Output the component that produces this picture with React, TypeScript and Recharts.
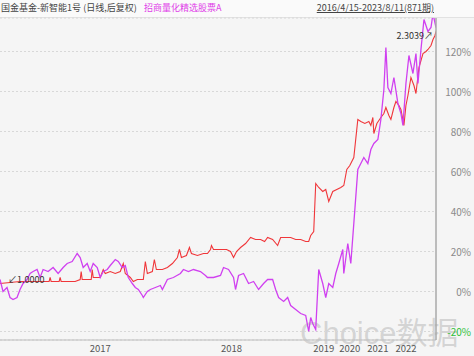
import React from "react";
import {
  LineChart,
  Line,
  XAxis,
  YAxis,
  CartesianGrid,
  ReferenceDot,
} from "recharts";

// period index (0..870, 871期) and cumulative return in %
const redPeriods = [
  0, 40, 80, 98, 100, 102, 118, 120, 122, 150, 160, 162, 164, 182, 184, 186, 200, 206, 210, 220,
  230, 240, 246, 250, 260, 266, 274, 286, 290, 294, 304, 308, 312, 324, 334, 344, 354, 358, 362, 372,
  378, 382, 394, 406, 414, 420, 422, 426, 440, 452, 460, 466, 472, 480, 490, 500, 510, 520, 528, 534,
  544, 554, 560, 570, 580, 590, 600, 610, 616, 620, 626, 630, 636, 644, 650, 656, 664, 672, 680, 686,
  692, 698, 706, 714, 720, 728, 736, 740, 744, 746, 752, 760, 766, 770, 776, 780, 786, 790, 796, 800,
  806, 810, 814, 820, 826, 830, 836, 844, 850, 854, 860, 864, 868, 870,
];
const redValues = [
  4, 5, 5, 5, 7, 5, 5, 7, 5, 5, 6, 10, 6, 6, 11, 7, 7, 11, 9, 10,
  9, 10, 14, 9, 7, 5, 6, 6, 15, 9, 10, 16, 11, 11, 12, 14, 17, 21, 17, 18,
  22, 19, 18, 19, 19, 21, 23, 21, 21, 21, 20, 17, 20, 22, 24, 27, 26, 26, 25, 27,
  26, 23, 27, 27, 27, 26, 26, 25, 25, 28, 30, 54, 52, 50, 51, 45, 50, 51, 52, 53,
  61, 63, 67, 86, 85, 84, 85, 83, 87, 79, 84, 87, 89, 92, 88, 86, 92, 95, 93, 91,
  83, 93, 98, 107, 103, 99, 112, 119, 120, 121, 123, 126, 128, 130,
];

const purplePeriods = [
  0, 6, 14, 20, 26, 34, 40, 46, 54, 60, 66, 74, 80, 86, 96, 106, 116, 126, 134, 144,
  154, 160, 166, 174, 180, 186, 194, 200, 206, 214, 220, 230, 236, 244, 250, 256, 264, 270, 276, 284,
  286, 294, 300, 310, 320, 324, 334, 346, 360, 366, 376, 386, 400, 410, 414, 426, 440, 446, 456, 466,
  470, 476, 486, 496, 506, 516, 526, 534, 544, 550, 556, 566, 574, 580, 590, 600, 610, 616, 620, 624,
  630, 636, 644, 650, 656, 664, 670, 676, 684, 686, 694, 700, 706, 714, 720, 726, 734, 740, 746, 754,
  760, 766, 770, 774, 780, 786, 794, 800, 804, 810, 816, 824, 830, 834, 840, 846, 854, 860, 864, 870,
];
const purpleValues = [
  6, 0, 2, -3, -4, -3, 1, 4, 6, 9, 10, 11, 7, 11, 10, 12, 9, 12, 14, 15,
  19, 17, 12, 14, 10, 14, 12, 7, 10, 11, 13, 16, 15, 12, 13, 7, 4, 2, 1, -2,
  -3, 0, 1, 2, 3, 1, 6, 7, 9, 11, 10, 11, 10, 8, 7, 7, 8, 12, 11, 7,
  1, 8, 9, 4, 5, 1, 4, 6, 6, 1, -3, -5, -3, -7, -9, -11, -12, -20, -13, -16,
  -19, 11, 4, -3, 4, 2, 9, 14, 21, 9, 24, 14, 34, 61, 64, 67, 64, 71, 74, 76,
  86, 101, 122, 102, 99, 107, 94, 89, 83, 104, 118, 109, 119, 104, 121, 136, 130, 132, 139, 132,
];

const yearTicks = [200, 462, 646, 698, 754, 810];
const yearLabels = ["2017", "2018", "2019", "2020", "2021", "2022"];
const pctTicks = [-20, 0, 20, 40, 60, 80, 100, 120];

const redData = redPeriods.map((p, i) => ({ p, v: redValues[i] }));
const purpleData = purplePeriods.map((p, i) => ({ p, v: purpleValues[i] }));

const RED = "#f0363a";
const PURPLE = "#d040f0";

const PctTick = ({ y, payload }: any) => (
  <text
    x={471}
    y={y + 4}
    textAnchor="end"
    fontSize={10}
    fill={payload.value < 0 ? "#2fbf3a" : "#8a8a8a"}
  >
    {payload.value}%
  </text>
);

const YearTick = ({ x, payload }: any) => {
  const idx = yearTicks.indexOf(payload.value);
  return (
    <text x={x} y={352} textAnchor="middle" fontSize={9.5} fill="#555">
      {yearLabels[idx]}
    </text>
  );
};

const App = () => {
  return (
    <div
      style={{
        position: "absolute",
        left: 0,
        top: 0,
        width: 474,
        height: 356,
        background: "#f5f5f5",
        fontFamily: "'Noto Sans CJK SC', 'Noto Sans', sans-serif",
        overflow: "hidden",
      }}
    >
      <div
        style={{
          position: "absolute",
          left: 300,
          top: 314,
          fontSize: 31,
          lineHeight: "40px",
          color: "rgba(150,150,150,0.35)",
          fontFamily: "'Liberation Sans', 'Noto Sans CJK SC', sans-serif",
          whiteSpace: "nowrap",
          pointerEvents: "none",
        }}
      >
        Choice数据
      </div>
      <div
        style={{
          position: "absolute",
          left: 0,
          top: 0,
          width: 474,
          height: 17,
          background: "#fafafa",
          borderBottom: "1px solid #e2e2e2",
          fontSize: 9,
          lineHeight: "16px",
          whiteSpace: "nowrap",
        }}
      >
        <span style={{ position: "absolute", left: 1, color: "#444" }}>
          国金基金-新智能1号 (日线,后复权)
        </span>
        <span style={{ position: "absolute", left: 144, color: "#e040e8" }}>
          招商量化精选股票A
        </span>
        <span
          style={{
            position: "absolute",
            right: 40,
            color: "#444",
            textDecoration: "underline",
          }}
        >
          2016/4/15-2023/8/11(871期)
        </span>
      </div>
      <LineChart
        width={474}
        height={356}
        margin={{ top: 18, right: 0, left: 0, bottom: 0 }}
        style={{ position: "absolute", left: 0, top: 0 }}
      >
        <CartesianGrid
          vertical={false}
          stroke="#d8d8d8"
          strokeDasharray="2 2"
        />
        <XAxis
          type="number"
          dataKey="p"
          domain={[0, 870]}
          ticks={yearTicks}
          interval={0}
          tick={<YearTick />}
          tickLine={false}
          axisLine={{ stroke: "#bdbdbd" }}
          height={16}
          allowDataOverflow
        />
        <YAxis
          orientation="right"
          type="number"
          domain={[-24.25, 136.75]}
          ticks={pctTicks}
          interval={0}
          tick={<PctTick />}
          tickLine={false}
          axisLine={{ stroke: "#a8a8a8", strokeWidth: 1.5 }}
          width={38}
          allowDataOverflow
        />
        <Line
          data={redData}
          dataKey="v"
          type="linear"
          stroke={RED}
          strokeWidth={1.1}
          dot={false}
          isAnimationActive={false}
        />
        <Line
          data={purpleData}
          dataKey="v"
          type="linear"
          stroke={PURPLE}
          strokeWidth={1.3}
          dot={false}
          isAnimationActive={false}
        />
        <ReferenceDot
          x={redPeriods[0]}
          y={redValues[0]}
          r={0}
          label={(props: any) => (
            <text
              x={props.viewBox.x + 8}
              y={props.viewBox.y - 1}
              fontSize={9}
              fill="#333"
            >
              ↙1.0000
            </text>
          )}
        />
        <ReferenceDot
          x={redPeriods[redPeriods.length - 1]}
          y={redValues[redValues.length - 1]}
          r={0}
          label={(props: any) => (
            <text
              x={props.viewBox.x - 3}
              y={props.viewBox.y + 7}
              fontSize={9}
              textAnchor="end"
              fill="#333"
            >
              2.3039↗
            </text>
          )}
        />
      </LineChart>
    </div>
  );
};

export default App;
